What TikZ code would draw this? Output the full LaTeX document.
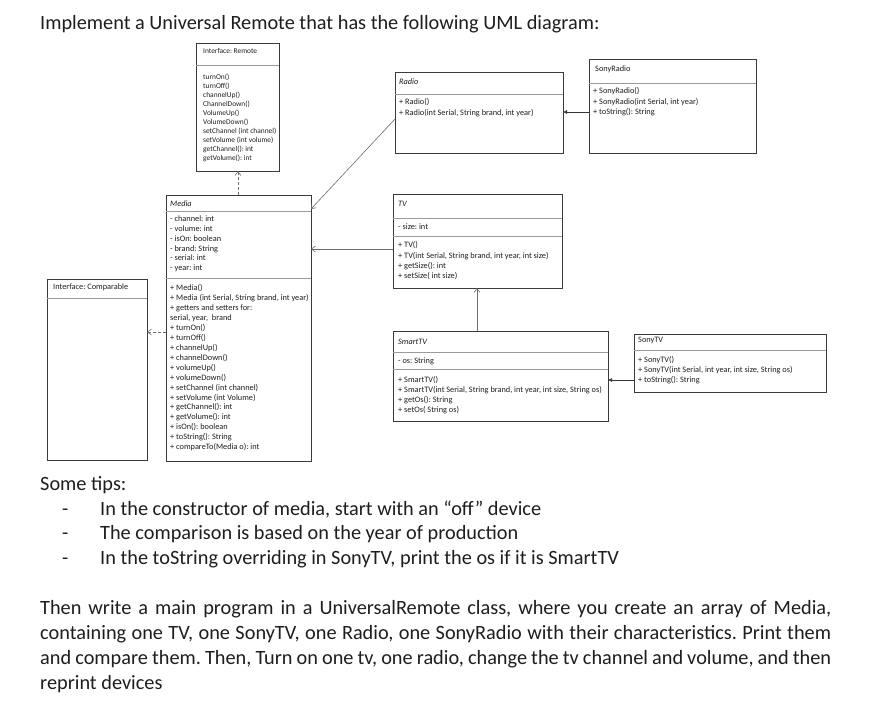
\documentclass[tikz,border=0pt]{standalone}
\usepackage{fontspec}
\setmainfont{Carlito}
\usetikzlibrary{arrows.meta}
\frenchspacing
\definecolor{boxc}{HTML}{3A3A3A}
\definecolor{sepc}{HTML}{9A9A9A}
\definecolor{linec}{HTML}{6E6E6E}
\definecolor{txtc}{HTML}{1E1E1E}
\newcommand\umlLines[5]{\foreach \t [count=\i] in {#5} {\node[small] (#1\i) at (#2, #3+#4*\i-#4+2.7) {\t};}}
\newcommand\umlLinesS[5]{\foreach \t [count=\i] in {#5} {\node[smaller] (#1\i) at (#2, #3+#4*\i-#4+2.4) {\t};}}
\begin{document}
\begin{tikzpicture}[x=1pt,y=-1pt,
  umlbox/.style={draw=boxc, line width=0.8pt, fill=white, inner sep=0pt, outer sep=0pt},
  sepline/.style={draw=sepc, line width=1pt},
  small/.style={font=\fontsize{8.3}{9}\selectfont, anchor=base west, inner sep=0pt, text=txtc},
  smaller/.style={font=\fontsize{7.4}{9}\selectfont, anchor=base west, inner sep=0pt, text=txtc},
  big/.style={font=\fontsize{20.3}{25}\selectfont, anchor=base west, inner sep=0pt, text=txtc},
  openhead/.style={draw=linec, line width=0.6pt, -{Straight Barb[length=4pt,width=6pt]}},
  dashhead/.style={draw=linec, line width=0.6pt, densely dashed, -{Straight Barb[length=4pt,width=6pt]}},
  fillhead/.style={draw=linec, line width=0.6pt, -{Latex[length=4pt,width=4pt]}, color=black!80}
]
\useasboundingbox (0,0) rectangle (883,710);
\fill[white] (0,0) rectangle (883,710);

% title
\node[big] (title) at (40,29) {Implement a Universal Remote that has the following UML diagram:};

% Interface: Remote
\node[umlbox, anchor=north west, minimum width=83pt, minimum height=128pt] (remote) at (196,43) {};
\draw[sepline] (196,65) -- (279,65);
\node[smaller] (remoteh) at (203,53.4) {Interface: Remote};
\umlLinesS{rm}{203}{77}{9}{{turnOn()},{turnOff()},{channelUp()},{ChannelDown()},{VolumeUp()},{VolumeDown()},{setChannel (int channel)},{setVolume (int volume)},{getChannel(): int},{getVolume(): int}}

% Media
\node[umlbox, anchor=north west, minimum width=145pt, minimum height=266pt] (media) at (166,195) {};
\draw[sepline] (166,211) -- (311,211);
\draw[sepline] (166,278) -- (311,278);
\node[small] (mediah) at (170,206.7) {\itshape Media};
\umlLines{ma}{170}{219}{9.8}{{- channel: int},{- volume: int},{- isOn: boolean},{- brand: String},{- serial: int},{- year: int}}
\umlLines{mm}{170}{288}{9.94}{{+ Media()},{+ Media (int Serial, String brand, int year)},{+ getters and setters for:},{serial, year,\ \ brand},{+ turnOn()},{+ turnOff()},{+ channelUp()},{+ channelDown()},{+ volumeUp()},{+ volumeDown()},{+ setChannel (int channel)},{+ setVolume (int Volume)},{+ getChannel(): int},{+ getVolume(): int},{+ isOn(): boolean},{+ toString(): String},{+ compareTo(Media o): int}}

% Interface: Comparable
\node[umlbox, anchor=north west, minimum width=100pt, minimum height=181pt] (comp) at (47,279) {};
\draw[sepline] (47,298) -- (147,298);
\node[small] (comph) at (53,289.7) {Interface: Comparable};

% Radio
\node[umlbox, anchor=north west, minimum width=168pt, minimum height=81pt] (radio) at (395,72) {};
\draw[sepline] (395,94) -- (563,94);
\node[small] (radioh) at (399,84.7) {\itshape Radio};
\umlLines{ra}{399}{102}{10.5}{{+ Radio()},{+ Radio(int Serial, String brand, int year)}}

% SonyRadio
\node[umlbox, anchor=north west, minimum width=167pt, minimum height=94pt] (sradio) at (589,59) {};
\draw[sepline] (589,83) -- (756,83);
\node[small] (sradioh) at (595,71.7) {SonyRadio};
\umlLines{sr}{593}{90.5}{10.8}{{+ SonyRadio()},{+ SonyRadio(int Serial, int year)},{+ toString(): String}}

% TV
\node[umlbox, anchor=north west, minimum width=169pt, minimum height=94pt] (tv) at (393,194) {};
\draw[sepline] (393,218) -- (562,218);
\draw[sepline] (393,236) -- (562,236);
\node[small] (tvh) at (398,206.7) {\itshape TV};
\node[small] (tva) at (398,229.7) {- size: int};
\umlLines{tm}{398}{245}{10.3}{{+ TV()},{+ TV(int Serial, String brand, int year, int size)},{+ getSize(): int},{+ setSize( int size)}}

% SmartTV
\node[umlbox, anchor=north west, minimum width=215pt, minimum height=90pt] (stv) at (393,331) {};
\draw[sepline] (393,352) -- (608,352);
\draw[sepline] (393,369) -- (608,369);
\node[small] (stvh) at (398,344.7) {\itshape SmartTV};
\node[small] (stva) at (398,363.7) {- os: String};
\umlLines{sm}{398}{380}{10}{{+ SmartTV()},{+ SmartTV(int Serial, String brand, int year, int size, String os)},{+ getOs(): String},{+ setOs( String os)}}

% SonyTV
\node[umlbox, anchor=north west, minimum width=192pt, minimum height=58pt] (sonytv) at (634,334) {};
\draw[sepline] (634,350) -- (826,350);
\node[small] (sonytvh) at (638,342.7) {SonyTV};
\umlLines{so}{638}{360}{10}{{+ SonyTV()},{+ SonyTV(int Serial, int year, int size, String os)},{+ toString(): String}}

% connectors
\coordinate (cx1) at (238,0);
\coordinate (cy1) at (0,332);
\coordinate (cy2) at (0,249);
\coordinate (cx3) at (477,0);
\coordinate (cy4) at (0,112);
\coordinate (cy5) at (0,380);
\coordinate (radiop) at (395,119);
\coordinate (mediap) at (311,209);
\draw[dashhead] (media.north -| cx1) -- (remote.south -| cx1);
\draw[dashhead] (media.west |- cy1) -- (comp.east |- cy1);
\draw[openhead] (radiop) -- (mediap);
\draw[openhead] (tv.west |- cy2) -- (media.east |- cy2);
\draw[openhead] (stv.north -| cx3) -- (tv.south -| cx3);
\draw[fillhead] (sradio.west |- cy4) -- (radio.east |- cy4);
\draw[fillhead] (sonytv.west |- cy5) -- (stv.east |- cy5);

% tips
\node[big] (tips) at (40,490) {Some tips:};
\node[big] (d1) at (62,515) {-};
\node[big] (t1) at (100,515) {In the constructor of media, start with an “off” device};
\node[big] (d2) at (62,539) {-};
\node[big] (t2) at (100,539) {The comparison is based on the year of production};
\node[big] (d3) at (62,564) {-};
\node[big] (t3) at (100,564) {In the toString overriding in SonyTV, print the os if it is SmartTV};

% paragraph
\node[big] (p1) at (40,614) {\makebox[791pt][s]{Then write a main program in a UniversalRemote class, where you create an array of Media,}};
\node[big] (p2) at (40,639) {\makebox[791pt][s]{containing one TV, one SonyTV, one Radio, one SonyRadio with their characteristics. Print them}};
\node[big] (p3) at (40,664) {\makebox[791pt][s]{and compare them. Then, Turn on one tv, one radio, change the tv channel and volume, and then}};
\node[big] (p4) at (40,689) {reprint devices};
\end{tikzpicture}
\end{document}
